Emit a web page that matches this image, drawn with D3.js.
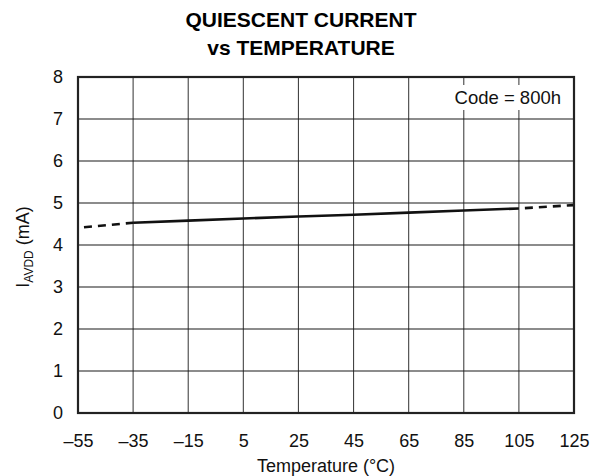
<!DOCTYPE html>
<html>
<head>
<meta charset="utf-8">
<script src="https://cdn.jsdelivr.net/npm/d3@7"></script>
<style>
  html, body { margin: 0; padding: 0; background: #fff; }
  svg { display: block; font-family: "Liberation Sans", Arial, Helvetica, sans-serif; }
</style>
</head>
<body>
<svg id="chart" width="594" height="476"></svg>
<script>
// Quiescent current of AVDD across temperature, code 800h
const temperatures = [-55, -35, -15, 5, 25, 45, 65, 85, 105, 125];
const currentMA    = [4.41, 4.53, 4.58, 4.63, 4.68, 4.72, 4.77, 4.82, 4.87, 4.95];
// Measured span is drawn solid, extrapolated ends dashed
const solidRange = [-35, 105];

const xTicks = [-55, -35, -15, 5, 25, 45, 65, 85, 105, 125];
const yTicks = [0, 1, 2, 3, 4, 5, 6, 7, 8];

const margin = { left: 78, right: 20, top: 77, bottom: 63 };
const W = 594, H = 476;
const svg = d3.select("#chart");

const x = d3.scaleLinear().domain([-55, 125]).range([margin.left, W - margin.right]);
const y = d3.scaleLinear().domain([0, 8]).range([H - margin.bottom, margin.top]);

const fmt = d => (d < 0 ? "\u2013" + Math.abs(d) : String(d));

// Grid
const grid = svg.append("g");
grid.selectAll("line.v").data(xTicks.slice(1, -1)).join("line")
  .attr("x1", d => x(d)).attr("x2", d => x(d))
  .attr("y1", y(0)).attr("y2", y(8))
  .attr("stroke", "#444").attr("stroke-width", 1.1);
grid.selectAll("line.h").data(yTicks.slice(1, -1)).join("line")
  .attr("x1", x(-55)).attr("x2", x(125))
  .attr("y1", d => y(d)).attr("y2", d => y(d))
  .attr("stroke", "#1a1a1a").attr("stroke-width", 1.1);

// Legend note with a white box over the grid
const note = svg.append("g");
note.append("rect")
  .attr("x", x(125) - 124).attr("y", y(8) + 8)
  .attr("width", 120).attr("height", 25)
  .attr("fill", "#fff");
note.append("text")
  .attr("x", x(125) - 13).attr("y", y(8) + 27)
  .attr("text-anchor", "end")
  .attr("font-size", 18.5).attr("fill", "#111")
  .text("Code = 800h");

// Curve
const pts = temperatures.map((t, i) => [t, currentMA[i]]);
const line = d3.line().x(d => x(d[0])).y(d => y(d[1]));
const solid = pts.filter(p => p[0] >= solidRange[0] && p[0] <= solidRange[1]);
const lowDash = pts.filter(p => p[0] <= solidRange[0]);
const highDash = pts.filter(p => p[0] >= solidRange[1]);

svg.append("path").datum(solid).attr("d", line)
  .attr("fill", "none").attr("stroke", "#111").attr("stroke-width", 2.6);
[lowDash, highDash].forEach(seg => {
  svg.append("path").datum(seg).attr("d", line)
    .attr("fill", "none").attr("stroke", "#111").attr("stroke-width", 2.6)
    .attr("stroke-dasharray", "8,6").attr("stroke-dashoffset", -6);
});

// Frame
svg.append("rect")
  .attr("x", x(-55)).attr("y", y(8))
  .attr("width", x(125) - x(-55)).attr("height", y(0) - y(8))
  .attr("fill", "none").attr("stroke", "#222").attr("stroke-width", 2.2);

// Tick labels via d3 axes (domain and tick marks hidden)
const xAxis = svg.append("g")
  .attr("transform", `translate(0,${y(0)})`)
  .call(d3.axisBottom(x).tickValues(xTicks).tickFormat(fmt).tickSize(0).tickPadding(21));
xAxis.select(".domain").remove();
xAxis.selectAll("text").attr("font-size", 18).attr("fill", "#111")
  .attr("font-family", "Liberation Sans, Arial, sans-serif");

const yAxis = svg.append("g")
  .attr("transform", `translate(${x(-55)},0)`)
  .call(d3.axisLeft(y).tickValues(yTicks).tickFormat(d3.format("d")).tickSize(0).tickPadding(15));
yAxis.select(".domain").remove();
yAxis.selectAll("text").attr("font-size", 18).attr("fill", "#111")
  .attr("font-family", "Liberation Sans, Arial, sans-serif");

// Axis titles
svg.append("text")
  .attr("x", (x(-55) + x(125)) / 2).attr("y", 471.5)
  .attr("text-anchor", "middle").attr("font-size", 18).attr("fill", "#111")
  .text("Temperature (°C)");

const yt = svg.append("text")
  .attr("transform", `translate(29,${(y(0) + y(8)) / 2 + 2}) rotate(-90)`)
  .attr("text-anchor", "middle").attr("font-size", 18).attr("fill", "#111");
yt.append("tspan").text("I");
yt.append("tspan").attr("font-size", 12).attr("dy", 4).text("AVDD");
yt.append("tspan").attr("dy", -4).text(" (mA)");

// Title
const title = svg.append("text")
  .attr("text-anchor", "middle")
  .attr("font-size", 21).attr("font-weight", "bold").attr("fill", "#000");
title.append("tspan").attr("x", 301).attr("y", 26.7).text("QUIESCENT CURRENT");
title.append("tspan").attr("x", 301).attr("y", 54.5).text("vs TEMPERATURE");
</script>
</body>
</html>
